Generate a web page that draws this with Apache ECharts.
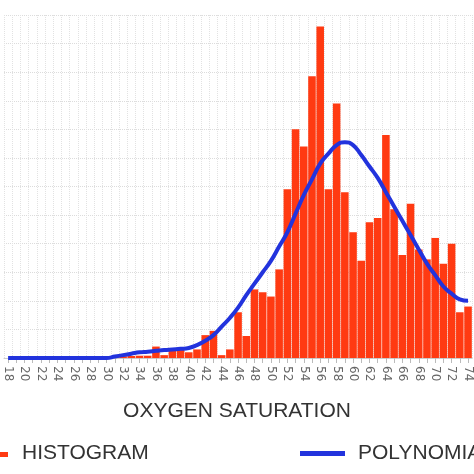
<!DOCTYPE html><html><head><meta charset="utf-8"><script src="https://cdn.jsdelivr.net/npm/echarts@6/dist/echarts.min.js"></script></head><body style="margin:0"><div id="c" style="width:474px;height:474px"></div><script>
const categories=[];for(let v=18;v<=74;v++)categories.push(String(v));
const histogram=[0,0,0,0,0,0,0,0,0,0,0,0,0,0.05,0.06,0.07,0.08,0.08,0.4,0.1,0.35,0.3,0.2,0.3,0.8,0.95,0.1,0.3,1.6,0.77,2.4,2.3,2.15,3.1,5.9,8.0,7.4,9.86,11.6,5.9,8.9,5.8,4.4,3.4,4.75,4.9,7.8,5.2,3.6,5.4,3.8,3.45,4.2,3.3,4.0,1.6,1.8];
const polynomial=[0,0,0,0,0,0,0,0,0,0,0,0,0,0.05,0.1,0.15,0.2,0.22,0.25,0.28,0.3,0.32,0.35,0.45,0.6,0.8,1.1,1.4,1.76,2.2,2.6,3.0,3.4,3.9,4.4,5.05,5.7,6.25,6.8,7.15,7.45,7.55,7.45,7.1,6.7,6.3,5.8,5.3,4.8,4.3,3.8,3.3,2.9,2.5,2.25,2.05,2.0];
const chart=echarts.init(document.getElementById('c'));
chart.setOption({animation:false,backgroundColor:'#fff',
grid:{left:4,right:-2,top:15,bottom:116},
xAxis:{type:'category',data:categories,boundaryGap:true,
 axisLine:{lineStyle:{color:'#ccc'}},axisTick:{show:true,alignWithLabel:true,interval:0,lineStyle:{color:'#bbb'}},
 axisLabel:{interval:1,rotate:-90,color:'#666',fontSize:12,fontFamily:'DejaVu Sans'},
 splitLine:{show:true,interval:0,lineStyle:{color:'#e2e2e2',type:'dotted'}}},
yAxis:{type:'value',min:0,max:12,interval:1,axisLabel:{show:false},axisLine:{show:false},axisTick:{show:false},
 splitLine:{lineStyle:{color:'#dcdcdc',type:'dotted'}}},
series:[{name:'HISTOGRAM',type:'bar',data:histogram,barCategoryGap:'8%',itemStyle:{color:'#ff3a12'}},
{name:'POLYNOMIAL',type:'line',data:polynomial,smooth:true,symbol:'none',lineStyle:{color:'#2233dd',width:4}}],
graphic:[{type:'text',left:'center',top:401,style:{text:'OXYGEN SATURATION',fontSize:21,fill:'#333',fontFamily:'Liberation Sans'}},
{type:'rect',shape:{x:0,y:452,width:8,height:5},style:{fill:'#ff3a12'}},
{type:'text',left:22,top:443,style:{text:'HISTOGRAM',fontSize:21,fill:'#333',fontFamily:'Liberation Sans'}},
{type:'rect',shape:{x:300,y:451,width:45,height:5},style:{fill:'#2233dd'}},
{type:'text',left:358,top:443,style:{text:'POLYNOMIAL',fontSize:21,fill:'#333',fontFamily:'Liberation Sans'}}]
});
</script></body></html>
